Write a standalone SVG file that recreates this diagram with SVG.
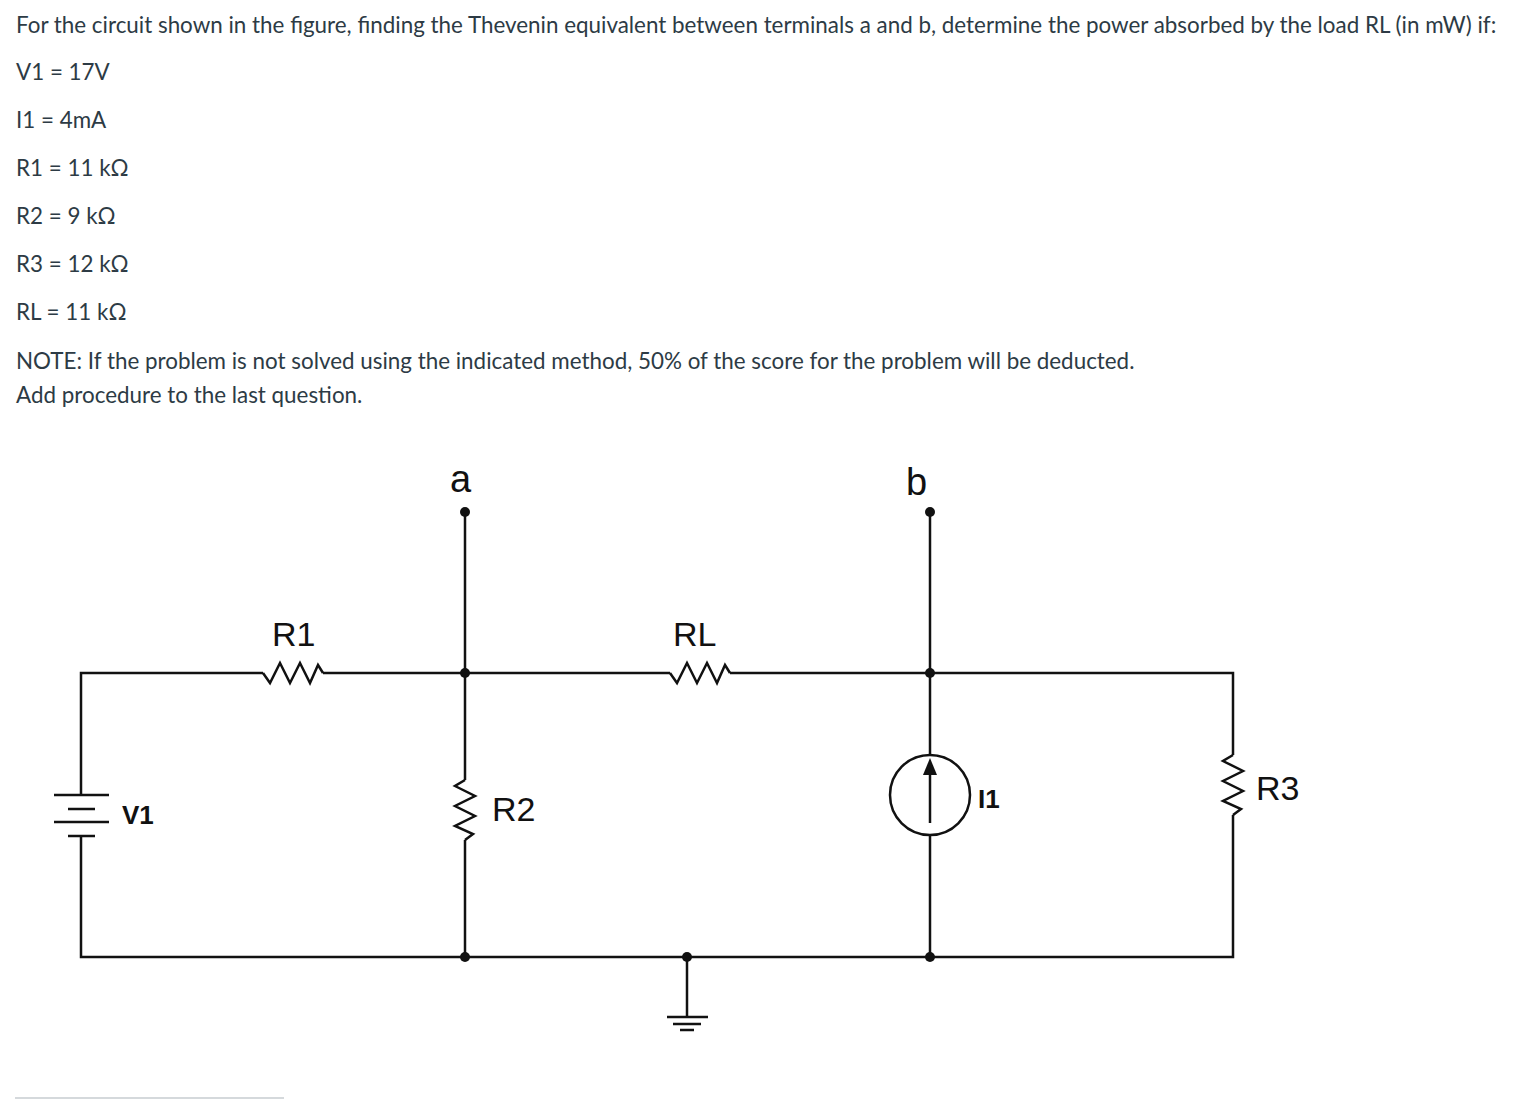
<svg xmlns="http://www.w3.org/2000/svg" width="1527" height="1102" viewBox="0 0 1527 1102">
<style>
.t{font-family:Lato,"Liberation Sans",sans-serif;font-size:22.4px;fill:#2d3b45}
.l{font-family:"Liberation Sans",Arial,sans-serif;font-size:34px;fill:#111}
.lb{font-family:"Liberation Sans",Arial,sans-serif;font-size:26px;font-weight:bold;fill:#111}
.w{stroke:#111;stroke-width:2.5;fill:none}
</style>
<rect width="1527" height="1102" fill="#fff"/>
<g id="text">
<text class="t" x="16" y="33">For the circuit shown in the figure, finding the Thevenin equivalent between terminals a and b, determine the power absorbed by the load RL (in mW) if:</text>
<text class="t" x="16" y="80">V1 = 17V</text>
<text class="t" x="16" y="128">I1 = 4mA</text>
<text class="t" x="16" y="176">R1 = 11 kΩ</text>
<text class="t" x="16" y="224">R2 = 9 kΩ</text>
<text class="t" x="16" y="272">R3 = 12 kΩ</text>
<text class="t" x="16" y="320">RL = 11 kΩ</text>
<text class="t" x="16" y="369">NOTE: If the problem is not solved using the indicated method, 50% of the score for the problem will be deducted.</text>
<text class="t" x="16" y="403">Add procedure to the last question.</text>
</g>
<g id="connectors" class="w">
<path d="M81 795 V673 H263"/>
<path d="M323 673 H670"/>
<path d="M730 673 H1233 V755"/>
<path d="M1233 815 V957 H81 V836"/>
<path d="M465 512 V780"/>
<path d="M465 840 V957"/>
<path d="M930 512 V755"/>
<path d="M930 835 V957"/>
<path d="M687 957 V1017"/>
</g>
<g id="V1" class="w">
<path d="M54 795 H109 M68 809 H95 M54 822 H109 M68 836 H95"/>
<text class="lb" x="122" y="824" stroke="none">V1</text>
</g>
<g id="R1"><path class="w" d="M263 673 L270 683 L280 663 L290 683 L300 663 L310 683 L318 665 L323 673"/><text class="l" x="272" y="646">R1</text></g>
<g id="RL"><path class="w" d="M670 673 L677 683 L687 663 L697 683 L707 663 L717 683 L725 665 L730 673"/><text class="l" x="673" y="646">RL</text></g>
<g id="R2"><path class="w" d="M465 780 L455 786 L475 796 L455 806 L475 816 L455 826 L473 834 L465 840"/><text class="l" x="492" y="821">R2</text></g>
<g id="R3"><path class="w" d="M1233 755 L1223 761 L1243 771 L1223 781 L1243 791 L1223 801 L1241 809 L1233 815"/><text class="l" x="1256" y="800">R3</text></g>
<g id="I1">
<circle class="w" cx="930" cy="795" r="40"/>
<path class="w" d="M930 823 V772"/>
<path d="M930 758 L923 775 H937 Z" fill="#111"/>
<text class="lb" x="978" y="808">I1</text>
</g>
<g id="a"><circle cx="465" cy="512" r="5" fill="#111"/><text class="l" x="450" y="492" style="font-size:38px">a</text></g>
<g id="b"><circle cx="930" cy="512" r="5" fill="#111"/><text class="l" x="906" y="495" style="font-size:38px">b</text></g>
<g id="junctions" fill="#111">
<circle cx="465" cy="673" r="5"/><circle cx="930" cy="673" r="5"/>
<circle cx="465" cy="957" r="5"/><circle cx="930" cy="957" r="5"/><circle cx="687" cy="957" r="5"/>
</g>
<g id="ground" class="w"><path d="M667 1017 H708 M673 1024 H701 M680 1030 H694"/></g>
<path d="M15 1098 H284" stroke="#c7cdd1" stroke-width="1.5"/>
</svg>
